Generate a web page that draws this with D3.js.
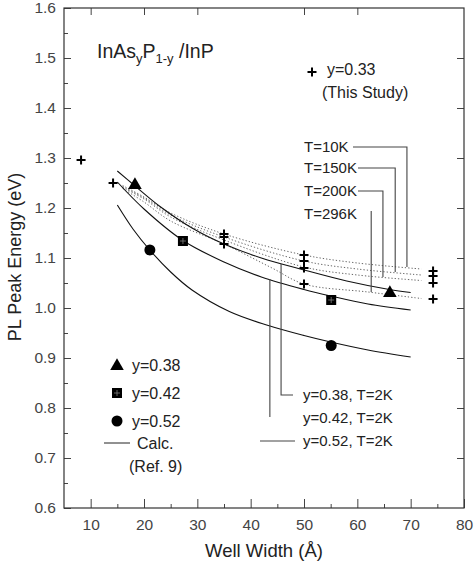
<!DOCTYPE html>
<html>
<head>
<meta charset="utf-8">
<script src="https://cdn.jsdelivr.net/npm/d3@7"></script>
<style>
  body { margin: 0; background: #fff; }
  text { font-family: "Liberation Sans", Arial, sans-serif; }
</style>
</head>
<body>
<svg id="chart" width="474" height="564"></svg>
<script>
// PL peak energy vs well width, InAsP/InP

// axis ticks
const widthTicks = [10, 20, 30, 40, 50, 60, 70, 80]
const widthMinor = [15, 25, 35, 45, 55, 65, 75]
const topTicks = [10, 20, 30, 50, 60]
const energyTicks = [0.6, 0.7, 0.8, 0.9, 1.0, 1.1, 1.2, 1.3, 1.4, 1.5, 1.6]
const energyMinor = [0.65, 0.75, 0.85, 0.95, 1.05, 1.15, 1.25, 1.35, 1.45, 1.55]

// y=0.33 (this study), crosses
const studyW = [8.2, 14.2, 35, 35, 35, 50, 50, 50, 50, 74.2, 74.2, 74.2, 74.2]
const studyE = [1.296, 1.25, 1.148, 1.142, 1.128, 1.106, 1.094, 1.080, 1.048, 1.074, 1.064, 1.050, 1.018]

// measured points from other compositions
const triW = [18.3, 66.1], triE = [1.248, 1.032]   // y=0.38
const sqW = [27.3, 55.1], sqE = [1.134, 1.016]     // y=0.42
const cirW = [21.1, 55.1], cirE = [1.116, 0.925]   // y=0.52

// Calc. (Ref. 9), T=2K
const calc38W = [15, 18, 23, 29, 35, 42, 50, 58, 66, 70]
const calc38E = [1.274, 1.247, 1.203, 1.160, 1.128, 1.100, 1.076, 1.054, 1.037, 1.031]
const calc42W = [15, 20, 27.3, 35, 42, 50, 55, 62, 70]
const calc42E = [1.252, 1.198, 1.135, 1.092, 1.062, 1.037, 1.024, 1.008, 0.996]
const calc52W = [15, 18, 21, 25, 29, 36, 43, 50, 55, 62, 70]
const calc52E = [1.206, 1.157, 1.117, 1.072, 1.036, 0.993, 0.966, 0.945, 0.932, 0.916, 0.902]

// temperature curves (dotted)
const tempNames = ['T=10K', 'T=150K', 'T=200K', 'T=296K']
const tempW = [16, 20, 25, 35, 50, 60, 72]
const temp10E = [1.245, 1.222, 1.190, 1.148, 1.106, 1.090, 1.078]
const temp150E = [1.243, 1.220, 1.186, 1.142, 1.094, 1.078, 1.066]
const temp200E = [1.241, 1.218, 1.182, 1.136, 1.082, 1.066, 1.055]
const temp296W = [16, 20, 25, 35, 44, 50, 62, 72]
const temp296E = [1.239, 1.212, 1.174, 1.128, 1.080, 1.048, 1.032, 1.019]

const svg = d3.select('#chart')
const plotL = 64, plotR = 464, plotT = 8, plotB = 508

const x = d3.scaleLinear().domain([5, 80]).range([plotL, plotR])
const y = d3.scaleLinear().domain([0.6, 1.6]).range([plotB, plotT])

const ink = '#222'
const tickInk = '#444'

// axes with inward ticks
const gx = svg.append('g').attr('transform', `translate(0,${plotB})`)
  .call(d3.axisBottom(x).tickValues(widthTicks).tickSize(-9).tickPadding(11).tickFormat(d3.format('d')))
gx.append('g').call(d3.axisBottom(x).tickValues(widthMinor).tickSize(-4).tickFormat(''))

const gy = svg.append('g').attr('transform', `translate(${plotL},0)`)
  .call(d3.axisLeft(y).tickValues(energyTicks).tickSize(-7).tickPadding(8).tickFormat(d3.format('.1f')))
gy.append('g').call(d3.axisLeft(y).tickValues(energyMinor).tickSize(-4).tickFormat(''))

svg.append('g').attr('transform', `translate(0,${plotT})`)
  .call(d3.axisTop(x).tickValues(topTicks).tickSize(-7).tickFormat(''))
svg.append('g').attr('transform', `translate(${plotR},0)`)
  .call(d3.axisRight(y).tickValues(energyTicks.slice(1, 10)).tickSize(-7).tickFormat(''))

svg.selectAll('.domain').remove()
svg.selectAll('.tick line').attr('stroke', tickInk)
svg.selectAll('.tick text').attr('font-size', 15.5).attr('fill', tickInk)

svg.append('rect')
  .attr('x', plotL).attr('y', plotT)
  .attr('width', plotR - plotL).attr('height', plotB - plotT)
  .attr('fill', 'none').attr('stroke', '#333').attr('stroke-width', 1.2)

// axis titles
svg.append('text')
  .attr('x', 264).attr('y', 557)
  .attr('text-anchor', 'middle').attr('font-size', 18.5).attr('fill', ink)
  .text('Well Width (Å)')
svg.append('text')
  .attr('transform', 'translate(21,257) rotate(-90)')
  .attr('text-anchor', 'middle').attr('font-size', 18).attr('fill', ink)
  .text('PL Peak Energy (eV)')

// curves
const line = d3.line().x(d => x(d[0])).y(d => y(d[1])).curve(d3.curveCatmullRom.alpha(0.5))
const zip = (a, b) => a.map((v, i) => [v, b[i]])

const dotted = [zip(tempW, temp10E), zip(tempW, temp150E), zip(tempW, temp200E), zip(temp296W, temp296E)]
svg.selectAll('path.temp')
  .data(dotted).enter().append('path')
  .attr('class', 'temp')
  .attr('d', line)
  .attr('fill', 'none').attr('stroke', '#666').attr('stroke-width', 1)
  .attr('stroke-dasharray', '1.3,2')

const solid = [zip(calc38W, calc38E), zip(calc42W, calc42E), zip(calc52W, calc52E)]
svg.selectAll('path.calc')
  .data(solid).enter().append('path')
  .attr('class', 'calc')
  .attr('d', line)
  .attr('fill', 'none').attr('stroke', '#111').attr('stroke-width', 1.1)

// leader lines (T labels)
const leadX = [69.3, 67.1, 64.8, 62.6]
const leadE = [1.082, 1.072, 1.062, 1.032]
const labelBase = [152, 173, 196, 219]
const hStart = [353, 358, 358, null]
const lead = svg.append('g').attr('stroke', '#444').attr('fill', 'none').attr('stroke-width', 1.1)
tempNames.forEach((t, i) => {
  const lx = x(leadX[i]), ly = labelBase[i] - 5
  if (hStart[i] != null) {
    lead.append('path').attr('d', `M${hStart[i]},${ly}H${lx}V${y(leadE[i])}`)
  } else {
    lead.append('path').attr('d', `M${lx},${ly - 3}V${y(leadE[i])}`)
  }
  svg.append('text')
    .attr('x', 304).attr('y', labelBase[i])
    .attr('font-size', 15).attr('fill', ink)
    .text(t)
})

// leader lines (calc curves)
lead.append('path').attr('d', `M${x(45.7)},${y(1.088)}V395H293`)
lead.append('path').attr('d', `M${x(43.6)},${y(1.058)}V417`)
lead.append('path').attr('d', 'M260,441H295')
const calcLabels = ['y=0.38, T=2K', 'y=0.42, T=2K', 'y=0.52, T=2K']
const calcBase = [400, 423, 446]
calcLabels.forEach((t, i) => {
  svg.append('text')
    .attr('x', 303).attr('y', calcBase[i])
    .attr('font-size', 15).attr('fill', ink)
    .text(t)
})

// markers
const tri = d3.symbol().type(d3.symbolTriangle).size(80)
const crossPath = s => `M${-s},0H${s}M0,${-s}V${s}`

function triangle (g, cx, cy) {
  g.append('path').attr('d', tri()).attr('transform', `translate(${cx},${cy + 1})`).attr('fill', '#000')
}
function square (g, cx, cy) {
  g.append('rect').attr('x', cx - 5).attr('y', cy - 5).attr('width', 10).attr('height', 10).attr('fill', '#000')
  g.append('path').attr('d', `M${cx - 3},${cy}H${cx + 3}M${cx},${cy - 3}V${cy + 3}`)
    .attr('stroke', '#fff').attr('stroke-width', 0.8).attr('opacity', 0.5)
}
function circle (g, cx, cy) {
  g.append('circle').attr('cx', cx).attr('cy', cy).attr('r', 5.5).attr('fill', '#000')
}
function cross (g, cx, cy) {
  g.append('path').attr('d', crossPath(4.5)).attr('transform', `translate(${cx},${cy})`)
    .attr('stroke', '#000').attr('stroke-width', 2)
}

const marks = svg.append('g')
studyW.forEach((w, i) => cross(marks, x(w), y(studyE[i])))
triW.forEach((w, i) => triangle(marks, x(w), y(triE[i])))
sqW.forEach((w, i) => square(marks, x(w), y(sqE[i])))
cirW.forEach((w, i) => circle(marks, x(w), y(cirE[i])))

// title
const title = svg.append('text').attr('x', 97).attr('y', 58).attr('font-size', 19.5).attr('fill', ink)
title.append('tspan').text('InAs')
title.append('tspan').attr('font-size', 13).attr('dy', 5).text('y')
title.append('tspan').attr('dy', -5).text('P')
title.append('tspan').attr('font-size', 13).attr('dy', 5).text('1-y')
title.append('tspan').attr('dy', -5).text(' /InP')

// this study legend
cross(svg, 312, 72)
svg.append('text').attr('x', 327).attr('y', 75).attr('font-size', 16).attr('fill', ink).text('y=0.33')
svg.append('text').attr('x', 322).attr('y', 98).attr('font-size', 16).attr('fill', ink).text('(This Study)')

// lower-left legend
const leg = svg.append('g')
const legNames = ['y=0.38', 'y=0.42', 'y=0.52']
const legY = [365, 393, 421]
triangle(leg, 117, legY[0])
square(leg, 117, legY[1])
circle(leg, 117, legY[2])
legNames.forEach((t, i) => {
  leg.append('text').attr('x', 132).attr('y', legY[i] + 6).attr('font-size', 16).attr('fill', ink).text(t)
})
leg.append('path').attr('d', 'M104,443H130').attr('stroke', '#222').attr('stroke-width', 1)
leg.append('text').attr('x', 137).attr('y', 449).attr('font-size', 16).attr('fill', ink).text('Calc.')
leg.append('text').attr('x', 129).attr('y', 472).attr('font-size', 16).attr('fill', ink).text('(Ref. 9)')
</script>
</body>
</html>
